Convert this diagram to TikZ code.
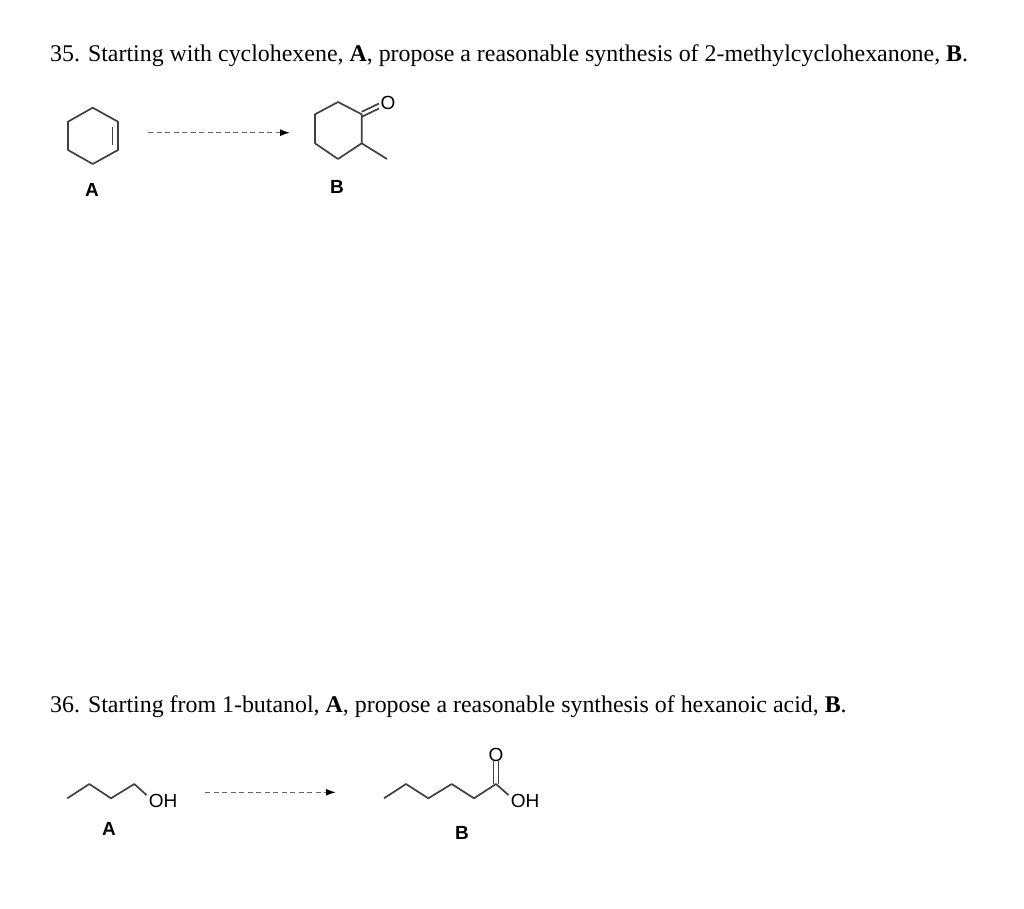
\documentclass[tikz,border=0pt]{standalone}
\usepackage{fontspec}
\setmainfont{Liberation Serif}
\setsansfont{Liberation Sans}
\usetikzlibrary{arrows.meta}
\tikzset{bond/.style={line width=1.7pt,color=black!75,line join=round},
 lab/.style={font=\sffamily\bfseries\fontsize{19}{19}\selectfont,inner sep=0pt},
 atom/.style={font=\sffamily\fontsize{19}{19}\selectfont,inner sep=0pt},
 rxn/.style={line width=1.4pt,color=black!60,dash pattern=on 5pt off 3.5pt,-{Latex[length=10pt,width=7pt,color=black]}},
 title/.style={font=\fontsize{23.9}{23.9}\selectfont,anchor=base west,inner sep=0pt}}
\begin{document}
\begin{tikzpicture}[x=1pt,y=-1pt]
\useasboundingbox (0,0) rectangle (1024,908);
\node[title] (t1) at (50,61) {35. Starting with cyclohexene, \textbf{A}, propose a reasonable synthesis of 2-methylcyclohexanone, \textbf{B}.};
\node[title] (t2) at (50,712) {36. Starting from 1-butanol, \textbf{A}, propose a reasonable synthesis of hexanoic acid, \textbf{B}.};
% cyclohexene
\coordinate (a1) at (92.7,107.7); \coordinate (a2) at (118,121.7); \coordinate (a3) at (118,150);
\coordinate (a4) at (92.7,164); \coordinate (a5) at (68,150); \coordinate (a6) at (68,121.7);
\draw[bond] (a1)--(a2)--(a3)--(a4)--(a5)--(a6)--cycle;
\coordinate (d1) at (112.5,127); \coordinate (d2) at (112.5,145);
\draw[bond] (d1)--(d2);
\node[lab] (A1) at (92,190) {A};
\coordinate (r1s) at (148,132.7); \coordinate (r1e) at (290,132.7);
\draw[rxn] (r1s)--(r1e);
% methylcyclohexanone
\coordinate (b1) at (338,102); \coordinate (b2) at (361.7,114.3); \coordinate (b3) at (361.7,143.3);
\coordinate (b4) at (338,159); \coordinate (b5) at (315,143.3); \coordinate (b6) at (315,114.3);
\draw[bond] (b1)--(b2)--(b3)--(b4)--(b5)--(b6)--cycle;
\node[atom] (O1) at (388,102.5) {O};
\coordinate (oc) at (379,106);
\draw[bond] ([yshift=-2.5pt]b2)--([yshift=-2.5pt]oc);
\draw[bond] ([yshift=2.5pt]b2)--([yshift=2.5pt]oc);
\coordinate (me) at (387,159);
\draw[bond] (b3)--(me);
\node[lab] (B1) at (337,187) {B};
% butanol
\coordinate (c1) at (67.3,798.3); \coordinate (c2) at (89.3,784); \coordinate (c3) at (111,798.3); \coordinate (c4) at (134.3,784);
\node[atom] (OH1) at (163,801) {OH};
\draw[bond] (c1)--(c2)--(c3)--(c4)--([xshift=-2pt,yshift=-1pt]OH1.north west);
\node[lab] (A2) at (109,829) {A};
\coordinate (r2s) at (205,792.3); \coordinate (r2e) at (336,792.3);
\draw[rxn] (r2s)--(r2e);
% hexanoic acid
\coordinate (e1) at (384,798.3); \coordinate (e2) at (406,784); \coordinate (e3) at (428.3,798.3);
\coordinate (e4) at (451.7,784); \coordinate (e5) at (474,798.3); \coordinate (e6) at (496,784);
\node[atom] (O2) at (496,755) {O};
\node[atom] (OH2) at (525,801) {OH};
\draw[bond] (e1)--(e2)--(e3)--(e4)--(e5)--(e6)--([xshift=-2pt,yshift=-1pt]OH2.north west);
\draw[bond] ([xshift=-2.5pt]e6)--([xshift=-2.5pt,yshift=2pt]O2.south);
\draw[bond] ([xshift=2.5pt]e6)--([xshift=2.5pt,yshift=2pt]O2.south);
\node[lab] (B2) at (462,833) {B};
\end{tikzpicture}
\end{document}
